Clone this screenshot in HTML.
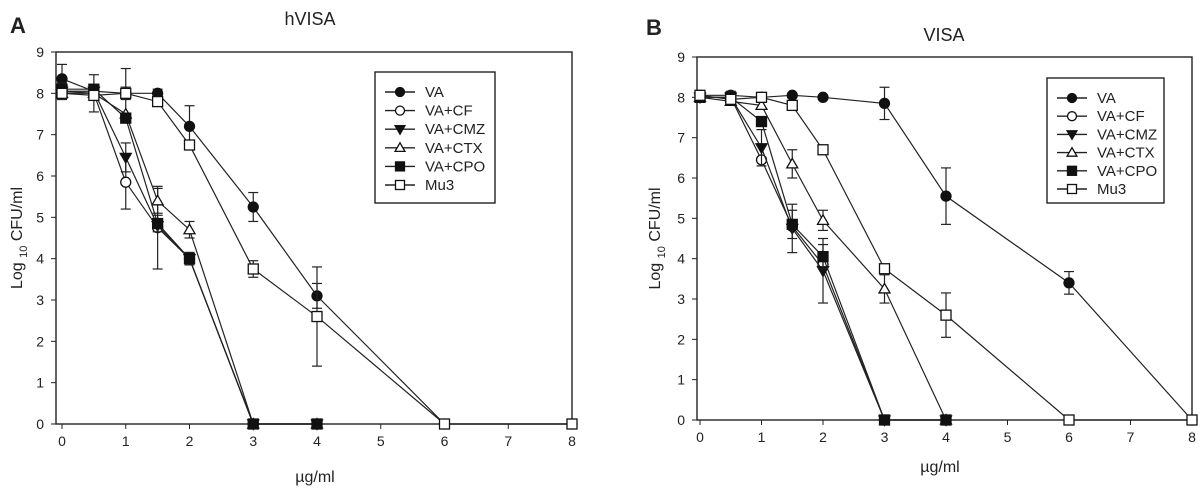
<!DOCTYPE html>
<html><head><meta charset="utf-8"><style>
body{margin:0;background:#fff;width:1200px;height:492px;overflow:hidden;font-family:"Liberation Sans",Arial,sans-serif}
svg text{font-family:"Liberation Sans",Arial,sans-serif;fill:#222}
</style></head><body>
<svg id="svg" width="1200" height="492" viewBox="0 0 1200 492">
<text x="10" y="33" font-size="22" font-weight="bold">A</text>
<text x="310" y="25" font-size="18" text-anchor="middle">hVISA</text>
<text x="646" y="35" font-size="22" font-weight="bold">B</text>
<text x="944" y="41" font-size="18" text-anchor="middle">VISA</text>
</svg>
<script>
const xVals=[0,0.5,1,1.5,2,3,4,6,8];
const seriesNames=["VA","VA+CF","VA+CMZ","VA+CTX","VA+CPO","Mu3"];
const markers=["circleF","circleO","triF","triO","squareF","squareO"];
const xTicks=[0,1,2,3,4,5,6,7,8];
const yTicks=[0,1,2,3,4,5,6,7,8,9];
// Panel A (hVISA)
const aVA=[8.35,8.05,8.0,8.0,7.2,5.25,3.1,0,0];
const aCF=[8.05,8.0,5.85,4.75,4.0,0,0,null,null];
const aCMZ=[8.05,8.05,6.45,4.8,4.0,0,0,null,null];
const aCTX=[8.0,8.0,7.5,5.4,4.7,0,0,null,null];
const aCPO=[8.1,8.1,7.4,4.85,4.0,0,0,null,null];
const aMu3=[8.0,7.95,8.0,7.8,6.75,3.75,2.6,0,0];
const aErrVA=[0.35,0.1,0.6,0.1,0.5,0.35,0.3,0,0];
const aErrCF=[0.2,0.45,0.65,1.0,0.15,0,0,0,0];
const aErrCMZ=[0,0,0.35,0,0,0,0,0,0];
const aErrCTX=[0,0,0,0.3,0.2,0,0,0,0];
const aErrCPO=[0,0,0,0.2,0.15,0,0,0,0];
const aErrMu3=[0.1,0,0.15,0,0,0.2,1.2,0,0];
// Panel B (VISA)
const bVA=[8.05,8.05,8.0,8.05,8.0,7.85,5.55,3.4,0];
const bCF=[8.0,8.0,6.45,4.8,3.85,0,0,null,null];
const bCMZ=[8.0,8.0,6.75,4.75,3.7,0,0,null,null];
const bCTX=[8.0,7.9,7.8,6.35,4.95,3.25,0,null,null];
const bCPO=[8.0,8.0,7.4,4.85,4.05,0,0,null,null];
const bMu3=[8.05,7.95,8.0,7.8,6.7,3.75,2.6,0,0];
const bErrVA=[0,0,0,0,0,0.4,0.7,0.28,0];
const bErrCF=[0,0,0,0,0,0,0,0,0];
const bErrCMZ=[0,0.15,0.45,0.6,0.8,0,0,0,0];
const bErrCTX=[0,0,0.1,0.35,0.25,0.35,0,0,0];
const bErrCPO=[0,0,0,0.35,0.3,0,0,0,0];
const bErrMu3=[0,0,0.1,0,0,0.1,0.55,0,0];

const NS="http://www.w3.org/2000/svg";
const svg=document.getElementById('svg');
function mk(tag,attrs,parent){const e=document.createElementNS(NS,tag);for(const k in attrs)e.setAttribute(k,attrs[k]);(parent||svg).appendChild(e);return e;}

function marker(g,type,x,y,r){
  let e;
  const fill=type.endsWith('F')?'#111':'#fff';
  if(type.startsWith('circle')) e=mk('circle',{cx:x,cy:y,r:r,fill:fill,stroke:'#111','stroke-width':1.3},g);
  else if(type.startsWith('square')) e=mk('rect',{x:x-r,y:y-r,width:2*r,height:2*r,fill:fill,stroke:'#111','stroke-width':1.3},g);
  else if(type==='triF') e=mk('polygon',{points:`${x-r*1.1},${y-r*0.8} ${x+r*1.1},${y-r*0.8} ${x},${y+r*1.1}`,fill:fill,stroke:'#111','stroke-width':1.3},g);
  else e=mk('polygon',{points:`${x-r*1.1},${y+r*0.8} ${x+r*1.1},${y+r*0.8} ${x},${y-r*1.1}`,fill:fill,stroke:'#111','stroke-width':1.3},g);
  return e;
}

function panel(id,box,series,errs,legend){
  const g=mk('g',{});
  
  
  const X=v=>box.x0+(v-0)/(8-0)*(box.x1-box.x0);
  const Y=v=>box.y0-(v-0)/(9-0)*(box.y0-box.y9);
  const frame=mk('rect',{x:box.ax,y:box.y9,width:box.x1-box.ax,height:box.y0-box.y9,fill:'none',stroke:'#222','stroke-width':1.4},g);
  
  
  yTicks.forEach(t=>{
    mk('line',{x1:box.ax-5,x2:box.ax,y1:Y(t),y2:Y(t),stroke:'#222'},g);
    const tx=mk('text',{x:box.ax-12,y:Y(t)+5,'font-size':14,'text-anchor':'end'},g);tx.textContent=t;
    
    
  });
  xTicks.forEach(t=>{
    mk('line',{x1:X(t),x2:X(t),y1:box.y0,y2:box.y0+5,stroke:'#222'},g);
    const tx=mk('text',{x:X(t),y:box.y0+22,'font-size':14,'text-anchor':'middle'},g);tx.textContent=t;
    
    
  });
  const xl=mk('text',{x:box.xlx,y:box.xly,'font-size':16,'text-anchor':'middle'},g);xl.textContent='µg/ml';
  
  
  const yl=mk('text',{transform:`translate(${box.ylx},${(box.y0+box.y9)/2}) rotate(-90)`,'font-size':16,'text-anchor':'middle'},g);
  yl.innerHTML='Log <tspan font-size="11" dy="5">10</tspan><tspan dy="-5"> CFU/ml</tspan>';
  
  
  series.forEach((s,i)=>{
    const sg=mk('g',{},g);
    
    
    const pts=[];
    s.forEach((v,j)=>{if(v!==null)pts.push([X(xVals[j]),Y(v)]);});
    mk('polyline',{points:pts.map(p=>p.join(',')).join(' '),fill:'none',stroke:'#222','stroke-width':1.2},sg);
    s.forEach((v,j)=>{
      if(v===null)return;const e=errs[i][j];
      if(e>0){
        const x=X(xVals[j]);
        mk('line',{x1:x,x2:x,y1:Y(v-e),y2:Y(v+e),stroke:'#222','stroke-width':1.2},sg);
        mk('line',{x1:x-5,x2:x+5,y1:Y(v-e),y2:Y(v-e),stroke:'#222','stroke-width':1.2},sg);
        mk('line',{x1:x-5,x2:x+5,y1:Y(v+e),y2:Y(v+e),stroke:'#222','stroke-width':1.2},sg);
      }
    });
    s.forEach((v,j)=>{if(v===null)return;const m=marker(sg,markers[i],X(xVals[j]),Y(v),5);
      
      });
  });
  const lg=mk('g',{},g);
  
  
  mk('rect',{x:legend.x,y:legend.y,width:legend.w,height:legend.h,fill:'#fff',stroke:'#222','stroke-width':1.4},lg);
  seriesNames.forEach((n,i)=>{
    const eg=mk('g',{},lg);
    
    
    const y=legend.y+20+i*legend.dy;
    mk('line',{x1:legend.x+10,x2:legend.x+40,y1:y,y2:y,stroke:'#222','stroke-width':1.4},eg);
    marker(eg,markers[i],legend.x+25,y,4.5);
    const t=mk('text',{x:legend.x+50,y:y+5,'font-size':15},eg);t.textContent=n;
  });
}
panel('hvisa',{ax:56,x0:62,x1:572,y0:424,y9:52,xlx:315,xly:482,ylx:22},
  [aVA,aCF,aCMZ,aCTX,aCPO,aMu3],[aErrVA,aErrCF,aErrCMZ,aErrCTX,aErrCPO,aErrMu3],
  {x:375,y:72,w:120,h:131,dy:18.6});
panel('visa',{ax:697,x0:700,x1:1192,y0:420,y9:57,xlx:940,xly:472,ylx:660},
  [bVA,bCF,bCMZ,bCTX,bCPO,bMu3],[bErrVA,bErrCF,bErrCMZ,bErrCTX,bErrCPO,bErrMu3],
  {x:1047,y:78,w:117,h:125,dy:18.2});
</script>
</body></html>
